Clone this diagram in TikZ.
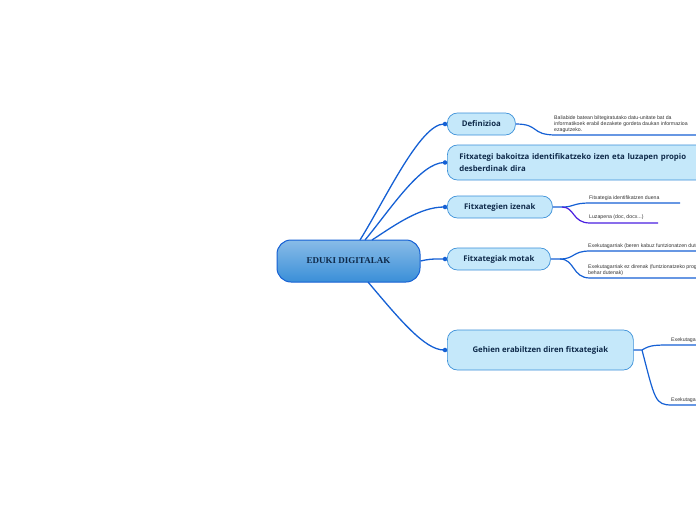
\documentclass[tikz,border=0pt]{standalone}
\usepackage{fontspec}
\setmainfont{Open Sans}
\newfontfamily\serifb{Liberation Serif}
\newfontfamily\subf{Liberation Sans}
\definecolor{ln}{HTML}{1560D4}
\definecolor{tf}{HTML}{C5E8FA}
\definecolor{tb}{HTML}{3A8FD8}
\definecolor{tt}{HTML}{0F2A4A}
\definecolor{pu}{HTML}{4A1FE0}
\tikzset{
 topic/.style={draw=tb,fill=tf,rounded corners=10pt,text=tt,font=\bfseries\fontsize{7.8}{12}\selectfont,anchor=west,align=left,inner xsep=12pt,line width=0.7pt},
 conn/.style={draw=ln,line width=1.3pt},
 sub/.style={font=\subf\fontsize{5.2}{6.2}\selectfont,text=black!80,anchor=south west,align=left,inner sep=1pt},
 ul/.style={draw=ln,line width=1.2pt},
 dot/.style={circle,fill=ln,inner sep=1.6pt}
}
\begin{document}
\begin{tikzpicture}[x=1pt,y=-1pt]
\useasboundingbox (0,0) rectangle (696,520);
\clip (0,0) rectangle (696,520);
\node[draw=ln,line width=1pt,rounded corners=14pt,top color=tb!60!white,bottom color=tb,minimum width=143pt,minimum height=42pt,font=\serifb\bfseries\small,text=tt] (c) at (348.5,261) {EDUKI DIGITALAK};
\node[topic,minimum height=22pt,minimum width=68pt] (t1) at (447,124) {Definizioa};
\node[topic,minimum height=35pt,text width=290pt] (t2) at (447,162.5) {Fitxategi bakoitza identifikatzeko izen eta luzapen propio\\desberdinak dira};
\node[topic,minimum height=22pt,minimum width=105pt] (t3) at (447,207) {Fitxategien izenak};
\node[topic,minimum height=22pt,minimum width=103pt] (t4) at (447,259) {Fitxategiak motak};
\node[topic,minimum height=40pt,minimum width=186pt,inner xsep=18pt] (t5) at (447,350) {Gehien erabiltzen diren fitxategiak};
\draw[conn] (360,240) .. controls (385,200) and (420,124) .. ([xshift=-3pt]t1.west);
\draw[conn] (365,240) .. controls (390,210) and (420,163) .. ([xshift=-3pt]t2.west);
\draw[conn] (372,240) .. controls (395,225) and (420,207) .. ([xshift=-3pt]t3.west);
\draw[conn] (c.east) .. controls (430,259) .. ([xshift=-3pt]t4.west);
\draw[conn] (368,282) .. controls (400,320) and (425,350) .. ([xshift=-3pt]t5.west);
\foreach \t in {t1,t2,t3,t4,t5} \node[dot] at ([xshift=-2pt]\t.west) {};
% subtopics
\node[sub] (s1) at (553,134) {Baliabide batean biltegiratutako datu-unitate bat da\\informatikoek erabil dezakete gordeta daukan informazioa\\ezagutzeko.};
\draw[ul] (t1.east) .. controls (540,124) and (530,135) .. (556,135) -- (696,135);
\node[sub] (s31) at (588,202) {Fitxategia identifikatzen duena};
\node[sub] (s32) at (588,221) {Luzapena (doc, docx...)};
\draw[ul] (t3.east) -- (562,207) .. controls (575,207) and (572,203) .. (590,203) -- (680,203);
\draw[draw=pu,line width=1.2pt] (562,207) .. controls (575,207) and (572,223) .. (590,223) -- (658,223);
\node[sub] (s41) at (587,250) {Exekutagarriak (beren kabuz funtzionatzen dutenak)};
\node[sub] (s42) at (587,277) {Exekutagarriak ez direnak (funtzionatzeko programa bat\\behar dutenak)};
\draw[ul] (t4.east) -- (560,259) .. controls (575,259) and (572,251) .. (590,251) -- (696,251);
\draw[ul] (560,259) .. controls (575,259) and (572,278) .. (590,278) -- (696,278);
\node[sub] (s51) at (670,344) {Exekutagarriak};
\node[sub] (s52) at (670,404) {Exekutagarriak ez direnak};
\draw[ul] (t5.east) -- (642,350) .. controls (650,345) and (655,345) .. (672,345) -- (696,345);
\draw[ul] (642,350) .. controls (655,400) and (655,405) .. (672,405) -- (696,405);
\end{tikzpicture}
\end{document}
